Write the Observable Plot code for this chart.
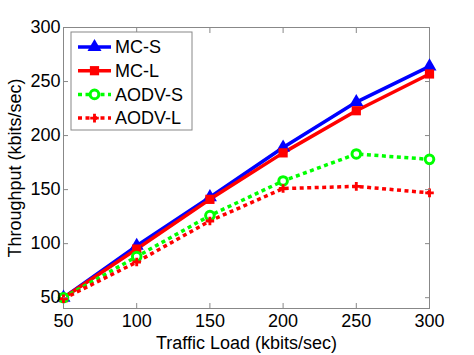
<!DOCTYPE html>
<html>
<head>
<meta charset="utf-8">
<script src="https://cdn.jsdelivr.net/npm/d3@7"></script>
<script src="https://cdn.jsdelivr.net/npm/@observablehq/plot@0.6"></script>
<style>
  html, body { margin: 0; padding: 0; background: #fff; }
  svg { display: block; }
</style>
</head>
<body>
<div id="chart"></div>
<script>
const load = [50, 100, 150, 200, 250, 300];
const mcS   = [50, 98, 143, 189, 231, 264];
const mcL   = [50, 95, 141, 184, 223, 257];
const aodvS = [50, 88, 126, 158, 183, 178];
const aodvL = [49, 83, 121, 151, 153, 147];
const seriesNames = ["MC-S", "MC-L", "AODV-S", "AODV-L"];
const xTicks = [50, 100, 150, 200, 250, 300];
const yTicks = [50, 100, 150, 200, 250, 300];
const xLabel = "Traffic Load (kbits/sec)";
const yLabel = "Throughput (kbits/sec)";

const values = [mcS, mcL, aodvS, aodvL];
const data = seriesNames.flatMap((s, k) => load.map((x, i) => ({series: s, x, y: values[k][i]})));

const style = {
  "MC-S":   {stroke: "#0000ff", dash: null, symbol: "triangle", r: 5.2, fill: "#0000ff", sw: 0},
  "MC-L":   {stroke: "#ff0000", dash: null, symbol: "square", r: 5.2, fill: "#ff0000", sw: 0},
  "AODV-S": {stroke: "#00ff00", dash: "4,3.5", symbol: "circle", r: 4.3, fill: "#ffffff", sw: 3},
  "AODV-L": {stroke: "#ff0000", dash: "4,3.5", symbol: "cross", r: 3.6, fill: "#ff0000", sw: 0}
};

const marks = [Plot.frame({stroke: "#888", strokeWidth: 1})];
for (const s of seriesNames) {
  const st = style[s];
  const d = data.filter(e => e.series === s);
  marks.push(Plot.line(d, {x: "x", y: "y", stroke: st.stroke, strokeWidth: 3.5, strokeDasharray: st.dash, strokeLinecap: "butt"}));
}
for (const s of seriesNames) {
  const st = style[s];
  const d = data.filter(e => e.series === s);
  marks.push(Plot.dot(d, {x: "x", y: "y", symbol: () => st.symbol, r: st.r, fill: st.fill,
    stroke: st.sw ? st.stroke : "none", strokeWidth: st.sw}));
}

const font = "'Liberation Sans', Arial, sans-serif";
const chart = Plot.plot({
  width: 474,
  height: 355,
  marginLeft: 63,
  marginRight: 45,
  marginTop: 27,
  marginBottom: 47,
  style: {fontFamily: font, fontSize: "18px", color: "#000", background: "#fff"},
  x: {domain: [50, 300]},
  y: {domain: [40, 300]},
  symbol: {type: "identity"},
  marks: [
    ...marks,
    Plot.axisX({ticks: xTicks, tickSize: -5, tickPadding: 11, stroke: "#888", label: null, fontSize: 18}),
    Plot.axisX({anchor: "top", ticks: xTicks, tickSize: -5, tickFormat: () => "", stroke: "#888", label: null}),
    Plot.axisY({ticks: yTicks, tickSize: -5, tickPadding: 8, stroke: "#888", label: null, fontSize: 18}),
    Plot.axisY({anchor: "right", ticks: yTicks, tickSize: -5, tickFormat: () => "", stroke: "#888", label: null}),
    Plot.text([xLabel], {text: d => d, frameAnchor: "bottom", lineAnchor: "middle", textAnchor: "middle", dy: 35, fontSize: 18}),
    Plot.text([yLabel], {text: d => d, frameAnchor: "left", lineAnchor: "middle", textAnchor: "middle", dx: -48, rotate: -90, fontSize: 18})
  ]
});

// Legend (inside plot, top-left)
const svg = d3.select(chart);
const g = svg.append("g").attr("font-family", font).attr("font-size", 18).attr("text-anchor", "start");
g.append("rect").attr("x", 71).attr("y", 32).attr("width", 121).attr("height", 98)
  .attr("fill", "#fff").attr("stroke", "#888").attr("stroke-width", 1);
seriesNames.forEach((s, i) => {
  const st = style[s];
  const cy = 47 + i * 23.7;
  g.append("line").attr("x1", 78).attr("x2", 111).attr("y1", cy).attr("y2", cy)
    .attr("stroke", st.stroke).attr("stroke-width", 3.5)
    .attr("stroke-dasharray", st.dash);
  const symMap = {triangle: d3.symbolTriangle, square: d3.symbolSquare, circle: d3.symbolCircle, cross: d3.symbolCross};
  g.append("path").attr("transform", `translate(94.5,${cy})`)
    .attr("d", d3.symbol(symMap[st.symbol], Math.PI * st.r * st.r)())
    .attr("fill", st.fill).attr("stroke", st.sw ? st.stroke : "none").attr("stroke-width", st.sw);
  g.append("text").attr("x", 115).attr("y", cy).attr("dy", "0.35em").attr("text-anchor", "start").text(s);
});

document.getElementById("chart").appendChild(chart);
</script>
</body>
</html>
